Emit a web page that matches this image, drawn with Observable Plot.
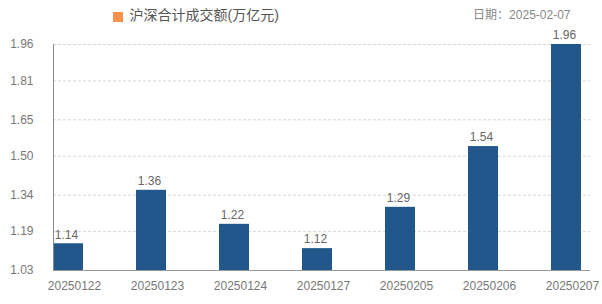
<!DOCTYPE html>
<html><head><meta charset="utf-8">
<script src="https://cdn.jsdelivr.net/npm/d3@7"></script>
<script src="https://cdn.jsdelivr.net/npm/@observablehq/plot@0.6"></script>
<style>
body{margin:0;background:#fff;}
#c{position:relative;width:602px;height:304px;}
svg{font-family:"Liberation Sans","Noto Sans CJK SC",Arial,sans-serif;}
</style></head>
<body><div id="c"></div>
<script>
const dates = ["20250122","20250123","20250124","20250127","20250205","20250206","20250207"];
const values = [1.14, 1.36, 1.22, 1.12, 1.29, 1.54, 1.96];
const yTicks = [1.03, 1.19, 1.34, 1.50, 1.65, 1.81, 1.96];
const title = ["沪深合计成交额(万亿元)"];
const dateNote = ["日期：2025-02-07"];

const data = dates.map((d,i)=>({date:d, value:values[i]}));
const font = '"Liberation Sans","Noto Sans CJK SC",Arial,sans-serif';

const chart = Plot.plot({
  width: 602, height: 304,
  marginLeft: 53, marginRight: 12, marginTop: 44, marginBottom: 34,
  style: {fontFamily: font, background: "#fff"},
  x: {domain: dates, range: [53, 581], paddingInner: 0.64, paddingOuter: 0, align: 0, axis: null},
  y: {domain: [1.03, 1.96], axis: null},
  marks: [
    Plot.ruleY(yTicks.slice(1), {stroke: "#d6d6d6", strokeDasharray: "3,2"}),
    Plot.barY(data, {x: "date", y1: 1.03, y2: "value", fill: "#22578b"}),
    Plot.ruleY([1.03], {stroke: "#999", strokeWidth: 1}),
    Plot.axisY(yTicks, {tickSize: 0, tickPadding: 20, tickFormat: d3.format(".2f"), fontSize: 12, fill: "#777", label: null}),
    Plot.axisX({tickSize: 0, tickPadding: 11, fontSize: 12, fill: "#777", dx: 6, label: null}),
    Plot.text(data, {x: "date", y: "value", text: d => d.value.toFixed(2), dy: -9, dx: -2, fontSize: 12, fill: "#666"}),
    Plot.text(title, {frameAnchor: "top-left", dx: 76, dy: -34, text: d => d, fontSize: 14, fill: "#555", textAnchor: "start"}),
    Plot.text(dateNote, {frameAnchor: "top-right", dx: -20, dy: -34, text: d => d, fontSize: 12, fill: "#888", textAnchor: "end"})
  ]
});
const c = document.getElementById("c");
c.appendChild(chart);
const svg = d3.select(chart);
svg.append("line").attr("x1",53.5).attr("x2",53.5).attr("y1",44).attr("y2",270).attr("stroke","#888");
svg.append("rect").attr("x",113).attr("y",12).attr("width",10).attr("height",10).attr("fill","#f7924a");
</script>
</body></html>
